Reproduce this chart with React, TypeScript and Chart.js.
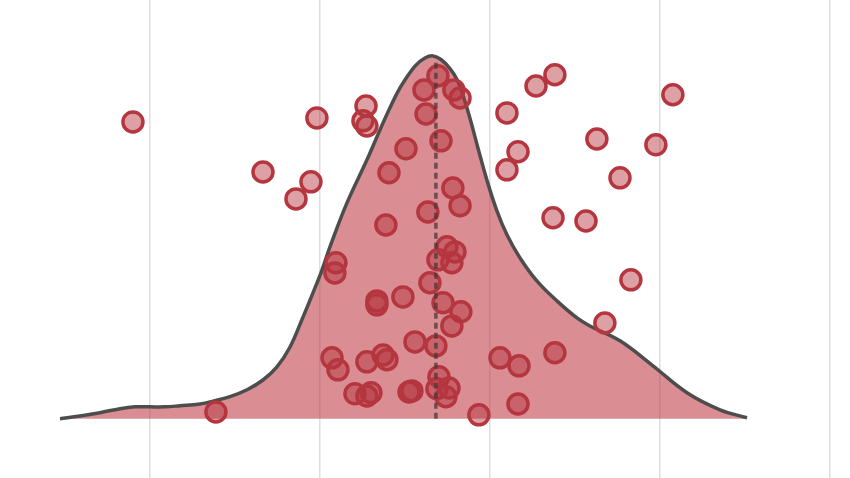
import { useEffect, useRef } from 'react';
import { Chart, registerables } from 'chart.js';

Chart.register(...registerables);

// density curve (kde)
const curveX = [
  4.71, 5.88, 7.06, 8.24, 9.12, 10, 10.88, 11.76, 12.94, 13.82, 14.71, 15.71, 16.65, 17.47,
  18.24, 18.94, 19.59, 20.12, 20.59, 21.59, 22.76, 23.53, 24.12, 24.71, 25.59, 26.18, 26.65,
  27.12, 27.65, 28.06, 28.35, 28.82, 29.29, 29.82, 30.41, 31.0, 31.76, 32.76, 33.94, 35.12,
  35.88, 37.65, 39.59, 41.59, 43.53, 45.12,
];
const curveY = [
  0, 0.008, 0.017, 0.028, 0.033, 0.033, 0.033, 0.036, 0.041, 0.05, 0.061, 0.08, 0.107, 0.143,
  0.198, 0.273, 0.347, 0.41, 0.474, 0.595, 0.713, 0.796, 0.857, 0.912, 0.972, 0.994, 1.0,
  0.99, 0.965, 0.935, 0.901, 0.829, 0.747, 0.658, 0.573, 0.507, 0.444, 0.38, 0.325, 0.278,
  0.256, 0.215, 0.146, 0.072, 0.025, 0.003,
];

// observations with vertical jitter
const pointX = [
  9.0, 13.88, 16.65, 18.59, 19.47, 19.82, 22.71, 22.53, 22.76, 26.94, 26.12, 27.88, 28.24,
  26.24, 25.06, 27.12, 24.06, 27.82, 28.24, 26.35, 23.88, 31.0, 32.71, 33.82, 31.65, 31.0,
  33.71, 36.29, 39.76, 40.76, 37.65, 35.65, 38.29, 36.76, 33.82, 20.94, 20.88, 23.35, 23.35,
  24.88, 27.47, 27.94, 26.94, 27.76, 26.47, 27.24, 28.29, 27.76, 25.59, 26.82, 20.71, 21.06,
  22.76, 23.71, 23.94, 30.59, 31.71, 22.06, 22.76, 23.0, 25.41, 25.24, 27.0, 26.88, 27.59,
  27.41, 29.35, 31.65,
];
const pointJitter = [
  0.818, 0.019, 0.68, 0.606, 0.653, 0.829, 0.862, 0.821, 0.807, 0.945, 0.906, 0.906, 0.884,
  0.84, 0.744, 0.766, 0.678, 0.636, 0.587, 0.57, 0.534, 0.843, 0.917, 0.948, 0.736, 0.686,
  0.554, 0.771, 0.755, 0.893, 0.664, 0.545, 0.383, 0.264, 0.182, 0.43, 0.402, 0.325, 0.314,
  0.336, 0.474, 0.46, 0.438, 0.43, 0.375, 0.32, 0.295, 0.256, 0.212, 0.201, 0.168, 0.135,
  0.157, 0.176, 0.163, 0.168, 0.146, 0.069, 0.063, 0.072, 0.077, 0.074, 0.116, 0.083, 0.085,
  0.061, 0.011, 0.041,
];

const median = 26.82;
const medianTop = 0.985;
const gridTicks = [10, 20, 30, 40, 50];

export default function App() {
  const canvasRef = useRef<HTMLCanvasElement>(null);

  useEffect(() => {
    if (!canvasRef.current) return;

    const chart = new Chart(canvasRef.current, {
      type: 'scatter',
      data: {
        datasets: [
          {
            // median marker, drawn on top
            type: 'line',
            data: [
              { x: median, y: 0 },
              { x: median, y: medianTop },
            ],
            borderColor: 'rgba(75, 55, 55, 0.75)',
            borderWidth: 3.5,
            borderDash: [6, 4],
            pointRadius: 0,
          },
          {
            data: pointX.map((x, i) => ({ x, y: pointJitter[i] })),
            backgroundColor: 'rgba(181, 54, 63, 0.47)',
            borderColor: '#b5363f',
            borderWidth: 3.5,
            pointRadius: 10,
          },
          {
            type: 'line',
            data: curveX.map((x, i) => ({ x, y: curveY[i] })),
            borderColor: '#4d4d4d',
            borderWidth: 3.5,
            backgroundColor: 'rgba(188, 48, 58, 0.55)',
            fill: 'origin',
            tension: 0.4,
            pointRadius: 0,
          },
        ],
      },
      options: {
        animation: false,
        responsive: true,
        maintainAspectRatio: false,
        layout: { padding: 0, autoPadding: false },
        plugins: {
          legend: { display: false },
          tooltip: { enabled: false },
        },
        scales: {
          x: {
            type: 'linear',
            min: 1.18,
            max: 51.18,
            afterBuildTicks: (scale) => {
              scale.ticks = gridTicks.map((value) => ({ value }));
            },
            grid: {
              color: '#dedede',
              lineWidth: 1.5,
              drawTicks: false,
            },
            border: { display: false },
            ticks: { display: false },
          },
          y: {
            display: false,
            min: -0.163,
            max: 1.154,
          },
        },
      },
    });

    return () => {
      chart.destroy();
    };
  }, []);

  return (
    <div style={{ position: 'fixed', left: 0, top: 0, width: 850, height: 478, background: '#fff' }}>
      <canvas ref={canvasRef} />
    </div>
  );
}
